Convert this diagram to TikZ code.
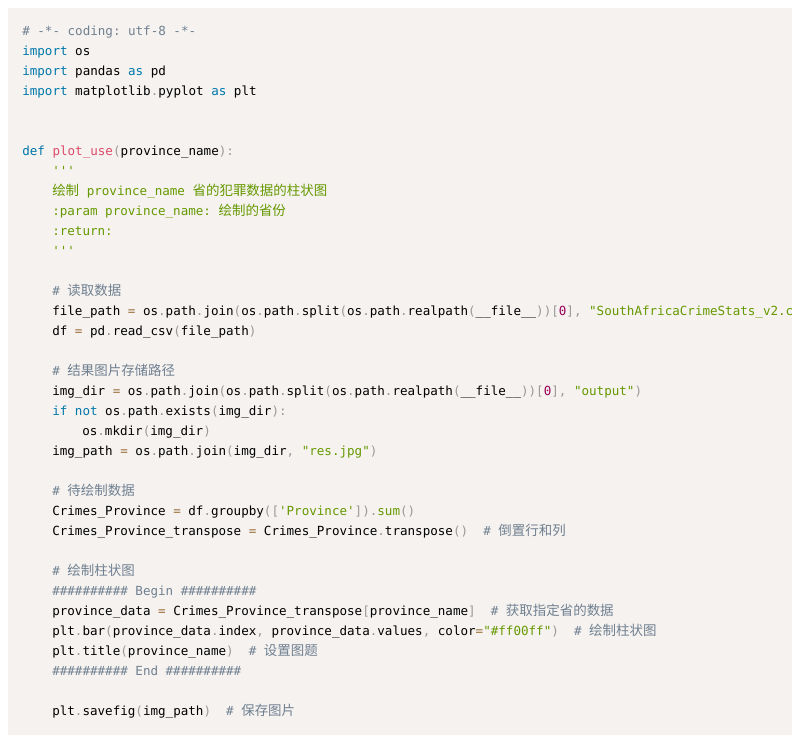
\documentclass[tikz,border=0pt]{standalone}
\usepackage{fontspec}
\setmonofont{DejaVu Sans Mono}
\newfontfamily\zhfont{Noto Sans CJK SC}
\definecolor{bgc}{HTML}{F5F2F0}
\definecolor{kw}{HTML}{0077AA}
\definecolor{fn}{HTML}{DD4A68}
\definecolor{st}{HTML}{669900}
\definecolor{cm}{HTML}{708090}
\definecolor{pu}{HTML}{999999}
\definecolor{nu}{HTML}{990055}
\definecolor{op}{HTML}{9A6E3A}
\newcommand\K[1]{\textcolor{kw}{#1}}
\newcommand\F[1]{\textcolor{fn}{#1}}
\newcommand\Sx[1]{\textcolor{st}{#1}}
\newcommand\Cm[1]{\textcolor{cm}{#1}}
\newcommand\Pu[1]{\textcolor{pu}{#1}}
\newcommand\Nu[1]{\textcolor{nu}{#1}}
\newcommand\Op[1]{\textcolor{op}{#1}}
\newcommand\Z[1]{{\zhfont\fontsize{10.1pt}{12pt}\selectfont #1}}
\begin{document}
\begin{tikzpicture}[x=0.75pt,y=-0.75pt,
  ln/.style={anchor=base west,inner sep=0pt,font=\ttfamily\fontsize{9.42pt}{15pt}\selectfont,text=black}]
\useasboundingbox (0,0) rectangle (800,743);
\fill[white] (0,0) rectangle (800,743);
\begin{scope}
\clip (8,8) rectangle (792,735);
\fill[bgc] (8,8) rectangle (792,735);
\newcommand\Ln[3]{\node[ln] at (#1,#2+5) {#3};}
\Ln{22}{30}{\Cm{\# -*- coding: utf-8 -*-}}
\Ln{22}{50}{\K{import} os}
\Ln{22}{70}{\K{import} pandas \K{as} pd}
\Ln{22}{90}{\K{import} matplotlib\Pu{.}pyplot \K{as} plt}
\Ln{22}{150}{\K{def} \F{plot\_use}\Pu{(}province\_name\Pu{):}}
\Ln{52}{170}{\Sx{'''}}
\Ln{52}{190}{\Sx{\Z{绘制} province\_name \Z{省的犯罪数据的柱状图}}}
\Ln{52}{210}{\Sx{:param province\_name: \Z{绘制的省份}}}
\Ln{52}{230}{\Sx{:return:}}
\Ln{52}{250}{\Sx{'''}}
\Ln{52}{290}{\Cm{\# \Z{读取数据}}}
\Ln{52}{310}{file\_path \Op{=} os\Pu{.}path\Pu{.}join\Pu{(}os\Pu{.}path\Pu{.}split\Pu{(}os\Pu{.}path\Pu{.}realpath\Pu{(}\_\_file\_\_\Pu{))[}\Nu{0}\Pu{],} \Sx{"SouthAfricaCrimeStats\_v2.csv"}\Pu{)}}
\Ln{52}{330}{df \Op{=} pd\Pu{.}read\_csv\Pu{(}file\_path\Pu{)}}
\Ln{52}{370}{\Cm{\# \Z{结果图片存储路径}}}
\Ln{52}{390}{img\_dir \Op{=} os\Pu{.}path\Pu{.}join\Pu{(}os\Pu{.}path\Pu{.}split\Pu{(}os\Pu{.}path\Pu{.}realpath\Pu{(}\_\_file\_\_\Pu{))[}\Nu{0}\Pu{],} \Sx{"output"}\Pu{)}}
\Ln{52}{410}{\K{if} \K{not} os\Pu{.}path\Pu{.}exists\Pu{(}img\_dir\Pu{):}}
\Ln{82}{430}{os\Pu{.}mkdir\Pu{(}img\_dir\Pu{)}}
\Ln{52}{450}{img\_path \Op{=} os\Pu{.}path\Pu{.}join\Pu{(}img\_dir\Pu{,} \Sx{"res.jpg"}\Pu{)}}
\Ln{52}{490}{\Cm{\# \Z{待绘制数据}}}
\Ln{52}{510}{Crimes\_Province \Op{=} df\Pu{.}groupby\Pu{([}\Sx{'Province'}\Pu{]).}\Sx{sum}\Pu{()}}
\Ln{52}{530}{Crimes\_Province\_transpose \Op{=} Crimes\_Province\Pu{.}transpose\Pu{()}\ \ \Cm{\# \Z{倒置行和列}}}
\Ln{52}{570}{\Cm{\# \Z{绘制柱状图}}}
\Ln{52}{590}{\Cm{\#\#\#\#\#\#\#\#\#\# Begin \#\#\#\#\#\#\#\#\#\#}}
\Ln{52}{610}{province\_data \Op{=} Crimes\_Province\_transpose\Pu{[}province\_name\Pu{]}\ \ \Cm{\# \Z{获取指定省的数据}}}
\Ln{52}{630}{plt\Pu{.}bar\Pu{(}province\_data\Pu{.}index\Pu{,} province\_data\Pu{.}values\Pu{,} color\Op{=}\Sx{"\#ff00ff"}\Pu{)}\ \ \Cm{\# \Z{绘制柱状图}}}
\Ln{52}{650}{plt\Pu{.}title\Pu{(}province\_name\Pu{)}\ \ \Cm{\# \Z{设置图题}}}
\Ln{52}{670}{\Cm{\#\#\#\#\#\#\#\#\#\# End \#\#\#\#\#\#\#\#\#\#}}
\Ln{52}{710}{plt\Pu{.}savefig\Pu{(}img\_path\Pu{)}\ \ \Cm{\# \Z{保存图片}}}
\end{scope}
\end{tikzpicture}
\end{document}
